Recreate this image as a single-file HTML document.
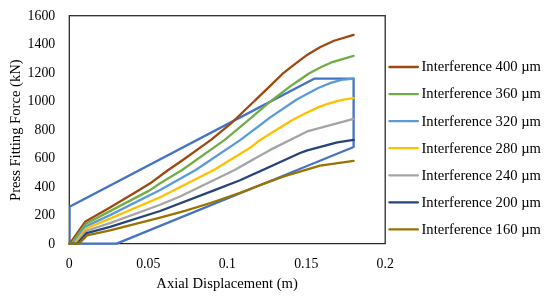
<!DOCTYPE html>
<html><head><meta charset="utf-8"><title>Press Fitting Force</title>
<style>
html,body{margin:0;padding:0;background:#fff;}
svg{display:block;}
text{font-family:"Liberation Serif",serif;font-size:13.8px;fill:#000;}
.t{font-size:13.8px;}
</style></head><body>
<svg width="550" height="298" viewBox="0 0 550 298">
<rect x="0" y="0" width="550" height="298" fill="#fff"/>
<defs><clipPath id="pc"><rect x="69.15" y="0" width="400" height="260"/></clipPath></defs>
<rect x="69.3" y="15.7" width="315.90" height="227.90" fill="none" stroke="#2b2b2b" stroke-width="1.3"/>
<polyline points="69.55,243.60 69.55,206.85 314.12,78.66 353.61,78.66 353.61,147.03 116.68,243.60 69.55,243.60" fill="none" stroke="#4472C4" stroke-width="2.3" stroke-linejoin="round" stroke-linecap="round" clip-path="url(#pc)"/>
<polyline points="69.30,243.60 69.77,243.60 85.09,221.81 110.05,207.42 139.27,190.04 150.17,183.35 167.54,170.53 182.87,159.99 210.98,139.91 231.99,122.53 270.21,85.92 282.37,73.96 295.17,63.84 307.80,54.44 320.44,47.04 334.02,40.77 353.61,34.93" fill="none" stroke="#9E480E" stroke-width="2.3" stroke-linejoin="round" stroke-linecap="round"/>
<polyline points="69.30,243.60 71.35,243.60 85.41,224.09 110.05,211.12 149.22,190.61 160.12,183.21 182.08,169.96 224.72,139.91 270.21,101.73 290.11,86.35 298.01,81.08 308.91,73.53 319.81,67.69 330.71,62.70 341.61,59.29 353.61,55.87" fill="none" stroke="#70AD47" stroke-width="2.3" stroke-linejoin="round" stroke-linecap="round"/>
<polyline points="69.30,243.60 72.93,243.60 85.73,226.37 110.05,215.11 160.12,190.04 195.66,169.96 240.52,139.91 270.21,117.40 296.75,99.45 318.23,88.06 330.71,82.93 341.61,79.80 353.61,78.66" fill="none" stroke="#5B9BD5" stroke-width="2.3" stroke-linejoin="round" stroke-linecap="round"/>
<polyline points="69.30,243.60 74.51,243.60 86.04,228.50 110.05,218.67 160.12,197.31 213.82,169.96 250.15,147.74 260.10,139.91 292.01,120.25 300.06,115.98 309.38,111.42 319.18,106.86 329.92,103.16 340.97,100.17 353.61,98.03" fill="none" stroke="#FFC000" stroke-width="2.3" stroke-linejoin="round" stroke-linecap="round"/>
<polyline points="69.30,243.60 76.09,243.60 86.36,230.78 110.05,223.09 160.12,204.71 180.02,196.45 234.67,169.96 270.21,149.88 308.12,131.07 353.61,118.82" fill="none" stroke="#A5A5A5" stroke-width="2.3" stroke-linejoin="round" stroke-linecap="round"/>
<polyline points="69.30,243.60 77.51,243.60 86.67,233.06 110.05,226.79 160.12,210.98 214.61,190.19 240.04,180.22 300.06,153.01 307.33,150.45 337.34,142.47 353.61,139.91" fill="none" stroke="#264478" stroke-width="2.3" stroke-linejoin="round" stroke-linecap="round"/>
<polyline points="69.30,243.60 78.93,243.60 86.99,235.48 110.05,230.35 160.12,217.68 184.92,210.84 210.51,203.01 240.04,192.75 260.10,185.20 283.80,176.37 320.12,165.69 353.61,160.84" fill="none" stroke="#997300" stroke-width="2.3" stroke-linejoin="round" stroke-linecap="round"/>
<text class="t" x="55.2" y="247.80" text-anchor="end">0</text>
<text class="t" x="55.2" y="219.31" text-anchor="end">200</text>
<text class="t" x="55.2" y="190.82" text-anchor="end">400</text>
<text class="t" x="55.2" y="162.34" text-anchor="end">600</text>
<text class="t" x="55.2" y="133.85" text-anchor="end">800</text>
<text class="t" x="55.2" y="105.36" text-anchor="end">1000</text>
<text class="t" x="55.2" y="76.87" text-anchor="end">1200</text>
<text class="t" x="55.2" y="48.39" text-anchor="end">1400</text>
<text class="t" x="55.2" y="19.90" text-anchor="end">1600</text>
<text x="69.30" y="267.9" text-anchor="middle" class="t">0</text>
<text x="148.27" y="267.9" text-anchor="middle" class="t">0.05</text>
<text x="227.25" y="267.9" text-anchor="middle" class="t">0.1</text>
<text x="306.23" y="267.9" text-anchor="middle" class="t">0.15</text>
<text x="385.20" y="267.9" text-anchor="middle" class="t">0.2</text>
<text x="227.1" y="288.3" text-anchor="middle" textLength="141.5" lengthAdjust="spacingAndGlyphs">Axial Displacement (m)</text>
<text transform="translate(19.6,130.2) rotate(-90)" text-anchor="middle" textLength="141.6" lengthAdjust="spacingAndGlyphs">Press Fitting Force (kN)</text>
<line x1="389.4" y1="67.00" x2="417.9" y2="67.00" stroke="#9E480E" stroke-width="2.3" stroke-linecap="round"/>
<text x="421.5" y="71.40" textLength="119.4" lengthAdjust="spacingAndGlyphs">Interference 400 µm</text>
<line x1="389.4" y1="94.07" x2="417.9" y2="94.07" stroke="#70AD47" stroke-width="2.3" stroke-linecap="round"/>
<text x="421.5" y="98.47" textLength="119.4" lengthAdjust="spacingAndGlyphs">Interference 360 µm</text>
<line x1="389.4" y1="121.14" x2="417.9" y2="121.14" stroke="#5B9BD5" stroke-width="2.3" stroke-linecap="round"/>
<text x="421.5" y="125.54" textLength="119.4" lengthAdjust="spacingAndGlyphs">Interference 320 µm</text>
<line x1="389.4" y1="148.21" x2="417.9" y2="148.21" stroke="#FFC000" stroke-width="2.3" stroke-linecap="round"/>
<text x="421.5" y="152.61" textLength="119.4" lengthAdjust="spacingAndGlyphs">Interference 280 µm</text>
<line x1="389.4" y1="175.28" x2="417.9" y2="175.28" stroke="#A5A5A5" stroke-width="2.3" stroke-linecap="round"/>
<text x="421.5" y="179.68" textLength="119.4" lengthAdjust="spacingAndGlyphs">Interference 240 µm</text>
<line x1="389.4" y1="202.35" x2="417.9" y2="202.35" stroke="#264478" stroke-width="2.3" stroke-linecap="round"/>
<text x="421.5" y="206.75" textLength="119.4" lengthAdjust="spacingAndGlyphs">Interference 200 µm</text>
<line x1="389.4" y1="229.42" x2="417.9" y2="229.42" stroke="#997300" stroke-width="2.3" stroke-linecap="round"/>
<text x="421.5" y="233.82" textLength="119.4" lengthAdjust="spacingAndGlyphs">Interference 160 µm</text>
</svg>
</body></html>
